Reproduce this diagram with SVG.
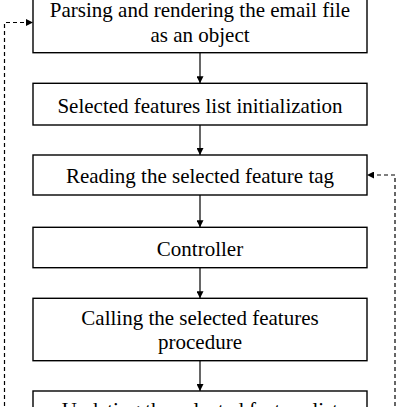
<svg xmlns="http://www.w3.org/2000/svg" width="407" height="407" viewBox="0 0 407 407">
<defs>
<marker id="ah" viewBox="0 0 10 10" refX="10" refY="5" markerWidth="7" markerHeight="7" markerUnits="userSpaceOnUse" orient="auto">
<path d="M0,0 L10,5 L0,10 z" fill="#000"/>
</marker>
</defs>
<style>
.box{fill:#fff;stroke:#000;stroke-width:1.4}
.t{font-family:"Liberation Serif","Times New Roman",serif;font-size:21px;fill:#000;text-anchor:middle}
.c{stroke:#000;stroke-width:1.2;fill:none}
.d{stroke:#000;stroke-width:1.2;fill:none;stroke-dasharray:4,3}
</style>
<rect width="407" height="407" fill="#fff"/>
<g id="connectors">
<line class="c" x1="200" y1="52.7" x2="200" y2="83.3" marker-end="url(#ah)"/>
<line class="c" x1="200" y1="125" x2="200" y2="155" marker-end="url(#ah)"/>
<line class="c" x1="200" y1="195" x2="200" y2="227.3" marker-end="url(#ah)"/>
<line class="c" x1="200" y1="267.7" x2="200" y2="298.3" marker-end="url(#ah)"/>
<line class="c" x1="200" y1="360.7" x2="200" y2="391" marker-end="url(#ah)"/>
<polyline class="d" points="4.5,420 4.5,22.5 33,22.5" marker-end="url(#ah)"/>
<polyline class="d" points="395,420 395,175 367,175" marker-end="url(#ah)"/>
</g>
<g id="n1">
<rect class="box" x="33" y="-9.7" width="334" height="62.4"/>
<text class="t" x="200" y="17.3">Parsing and rendering the email file</text>
<text class="t" x="200" y="42.3">as an object</text>
</g>
<g id="n2">
<rect class="box" x="33" y="83.3" width="334" height="41.7"/>
<text class="t" x="200" y="112.5">Selected features list initialization</text>
</g>
<g id="n3">
<rect class="box" x="33" y="155" width="334" height="40"/>
<text class="t" x="200" y="183.3">Reading the selected feature tag</text>
</g>
<g id="n4">
<rect class="box" x="33" y="227.3" width="334" height="40.4"/>
<text class="t" x="200" y="256">Controller</text>
</g>
<g id="n5">
<rect class="box" x="33" y="298.3" width="334" height="62.4"/>
<text class="t" x="200" y="325">Calling the selected features</text>
<text class="t" x="200" y="349">procedure</text>
</g>
<g id="n6">
<rect class="box" x="33" y="391" width="334" height="62.4"/>
<text class="t" x="200" y="417">Updating the selected feature list</text>
</g>
</svg>
